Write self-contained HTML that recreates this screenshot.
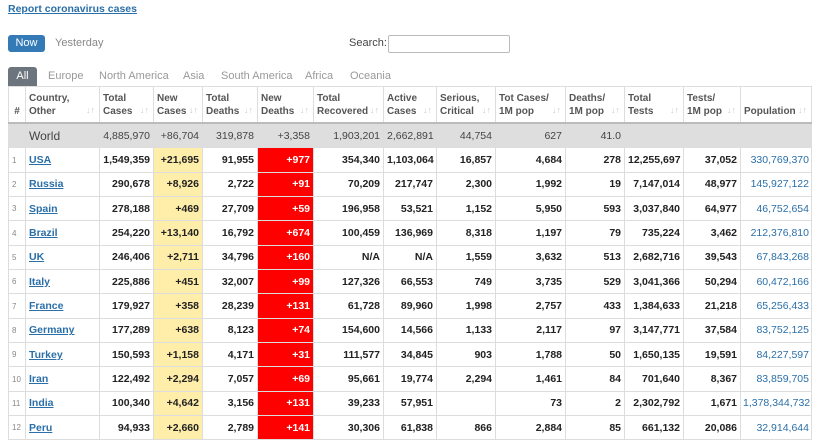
<!DOCTYPE html>
<html><head><meta charset="utf-8"><style>
body{margin:0;width:821px;height:442px;overflow:hidden;background:#fff;font-family:"Liberation Sans",sans-serif;font-size:10.5px;color:#222;position:relative}
a{color:#2a6fa8}
#report{position:absolute;left:8px;top:3px;font-size:10.5px;font-weight:bold;text-decoration:underline}
#now{position:absolute;left:8px;top:35px;width:37px;height:17px;background:#337ab7;color:#fff;border-radius:3px;text-align:center;line-height:17px;font-size:11px}
#yest{position:absolute;left:55px;top:35px;line-height:17px;color:#888;font-size:11px}
#slabel{position:absolute;left:349px;top:35px;line-height:17px;color:#444;font-size:11px}
#search{position:absolute;left:388px;top:35px;width:120px;height:16px;border:1px solid #bbb;border-radius:2px}
.tab{position:absolute;top:67px;height:19px;line-height:19px;color:#999;font-size:11px}
#tall{left:8px;width:29px;background:#6c757d;color:#fff;text-align:center;border-radius:3px 3px 0 0}
table{position:absolute;left:8px;top:86px;border-collapse:collapse;table-layout:fixed;width:803px}
td,th{border:1px solid #ddd;padding:0 3px;white-space:nowrap;overflow:hidden}
th{height:31px;text-align:left;font-size:10px;color:#555;vertical-align:bottom;padding-bottom:4px;line-height:13px;position:relative;border-bottom:2px solid #bbb}
th .ar{position:absolute;right:4px;bottom:5px;color:#ccc;font-size:9px}
td{height:23.35px;text-align:right;font-weight:bold}
tr.world td{background:#dedede;font-weight:normal;color:#444}
td.n{font-size:8px;color:#888;font-weight:normal;text-align:left}
td.c{text-align:left}
td.nc{background:#ffeeaa}
td.nd{background:#f00;color:#fff}
td.p{color:#2a6fa8;font-weight:normal;padding:0 2px}
</style></head><body>
<a id="report" href="#">Report coronavirus cases</a>
<div id="now">Now</div>
<div id="yest">Yesterday</div>
<div id="slabel">Search:</div>
<div id="search"></div>
<div class="tab" id="tall">All</div>
<div class="tab" style="left:48px">Europe</div>
<div class="tab" style="left:99px">North America</div>
<div class="tab" style="left:183px">Asia</div>
<div class="tab" style="left:221px">South America</div>
<div class="tab" style="left:305px">Africa</div>
<div class="tab" style="left:350px">Oceania</div>
<table>
<colgroup><col style="width:17px"><col style="width:74px"><col style="width:54px"><col style="width:49px"><col style="width:55px"><col style="width:56px"><col style="width:70px"><col style="width:53px"><col style="width:59px"><col style="width:70px"><col style="width:59px"><col style="width:59px"><col style="width:57px"><col style="width:71px"></colgroup>
<tr>
<th style="padding:0 2px 4px;text-align:center">#</th>
<th>Country,<br>Other<span class="ar">↓↑</span></th>
<th>Total<br>Cases<span class="ar">↓↑</span></th>
<th>New<br>Cases<span class="ar">↓↑</span></th>
<th>Total<br>Deaths<span class="ar">↓↑</span></th>
<th>New<br>Deaths<span class="ar">↓↑</span></th>
<th>Total<br>Recovered<span class="ar">↓↑</span></th>
<th>Active<br>Cases<span class="ar">↓↑</span></th>
<th>Serious,<br>Critical<span class="ar">↓↑</span></th>
<th>Tot Cases/<br>1M pop<span class="ar">↓↑</span></th>
<th>Deaths/<br>1M pop<span class="ar">↓↑</span></th>
<th>Total<br>Tests<span class="ar">↓↑</span></th>
<th>Tests/<br>1M pop<span class="ar">↓↑</span></th>
<th>Population<span class="ar">↓↑</span></th>
</tr>
<tr class="world"><td></td><td class="c" style="font-size:12px">World</td><td>4,885,970</td><td>+86,704</td><td>319,878</td><td>+3,358</td><td>1,903,201</td><td>2,662,891</td><td>44,754</td><td>627</td><td>41.0</td><td></td><td></td><td></td></tr>
<tr><td class="n">1</td><td class="c"><a href="#">USA</a></td><td>1,549,359</td><td class="nc">+21,695</td><td>91,955</td><td class="nd">+977</td><td>354,340</td><td>1,103,064</td><td>16,857</td><td>4,684</td><td>278</td><td>12,255,697</td><td>37,052</td><td class="p">330,769,370</td></tr>
<tr><td class="n">2</td><td class="c"><a href="#">Russia</a></td><td>290,678</td><td class="nc">+8,926</td><td>2,722</td><td class="nd">+91</td><td>70,209</td><td>217,747</td><td>2,300</td><td>1,992</td><td>19</td><td>7,147,014</td><td>48,977</td><td class="p">145,927,122</td></tr>
<tr><td class="n">3</td><td class="c"><a href="#">Spain</a></td><td>278,188</td><td class="nc">+469</td><td>27,709</td><td class="nd">+59</td><td>196,958</td><td>53,521</td><td>1,152</td><td>5,950</td><td>593</td><td>3,037,840</td><td>64,977</td><td class="p">46,752,654</td></tr>
<tr><td class="n">4</td><td class="c"><a href="#">Brazil</a></td><td>254,220</td><td class="nc">+13,140</td><td>16,792</td><td class="nd">+674</td><td>100,459</td><td>136,969</td><td>8,318</td><td>1,197</td><td>79</td><td>735,224</td><td>3,462</td><td class="p">212,376,810</td></tr>
<tr><td class="n">5</td><td class="c"><a href="#">UK</a></td><td>246,406</td><td class="nc">+2,711</td><td>34,796</td><td class="nd">+160</td><td>N/A</td><td>N/A</td><td>1,559</td><td>3,632</td><td>513</td><td>2,682,716</td><td>39,543</td><td class="p">67,843,268</td></tr>
<tr><td class="n">6</td><td class="c"><a href="#">Italy</a></td><td>225,886</td><td class="nc">+451</td><td>32,007</td><td class="nd">+99</td><td>127,326</td><td>66,553</td><td>749</td><td>3,735</td><td>529</td><td>3,041,366</td><td>50,294</td><td class="p">60,472,166</td></tr>
<tr><td class="n">7</td><td class="c"><a href="#">France</a></td><td>179,927</td><td class="nc">+358</td><td>28,239</td><td class="nd">+131</td><td>61,728</td><td>89,960</td><td>1,998</td><td>2,757</td><td>433</td><td>1,384,633</td><td>21,218</td><td class="p">65,256,433</td></tr>
<tr><td class="n">8</td><td class="c"><a href="#">Germany</a></td><td>177,289</td><td class="nc">+638</td><td>8,123</td><td class="nd">+74</td><td>154,600</td><td>14,566</td><td>1,133</td><td>2,117</td><td>97</td><td>3,147,771</td><td>37,584</td><td class="p">83,752,125</td></tr>
<tr><td class="n">9</td><td class="c"><a href="#">Turkey</a></td><td>150,593</td><td class="nc">+1,158</td><td>4,171</td><td class="nd">+31</td><td>111,577</td><td>34,845</td><td>903</td><td>1,788</td><td>50</td><td>1,650,135</td><td>19,591</td><td class="p">84,227,597</td></tr>
<tr><td class="n">10</td><td class="c"><a href="#">Iran</a></td><td>122,492</td><td class="nc">+2,294</td><td>7,057</td><td class="nd">+69</td><td>95,661</td><td>19,774</td><td>2,294</td><td>1,461</td><td>84</td><td>701,640</td><td>8,367</td><td class="p">83,859,705</td></tr>
<tr><td class="n">11</td><td class="c"><a href="#">India</a></td><td>100,340</td><td class="nc">+4,642</td><td>3,156</td><td class="nd">+131</td><td>39,233</td><td>57,951</td><td></td><td>73</td><td>2</td><td>2,302,792</td><td>1,671</td><td class="p">1,378,344,732</td></tr>
<tr><td class="n">12</td><td class="c"><a href="#">Peru</a></td><td>94,933</td><td class="nc">+2,660</td><td>2,789</td><td class="nd">+141</td><td>30,306</td><td>61,838</td><td>866</td><td>2,884</td><td>85</td><td>661,132</td><td>20,086</td><td class="p">32,914,644</td></tr>
</table>
</body></html>
